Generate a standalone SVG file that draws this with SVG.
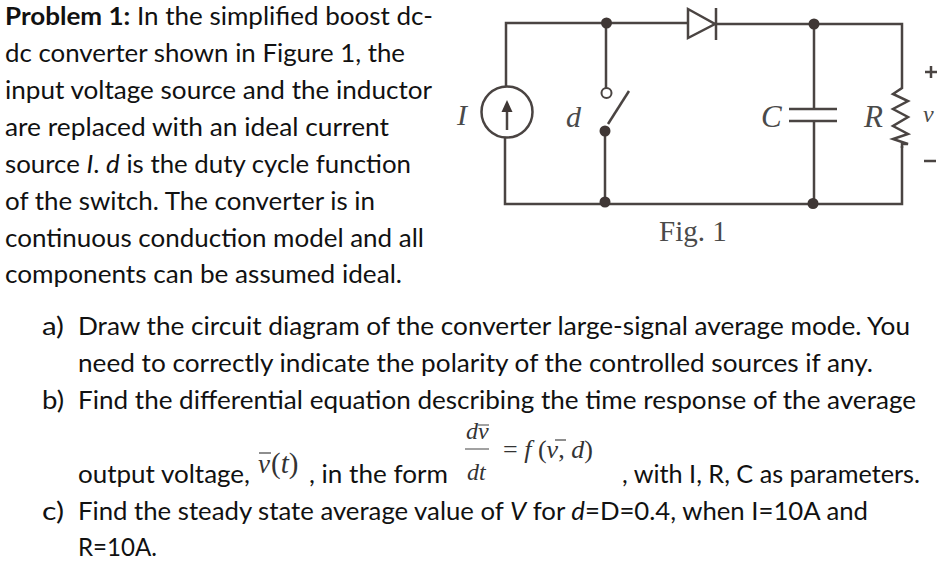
<svg xmlns="http://www.w3.org/2000/svg" width="942" height="561" viewBox="0 0 942 561">
<style>
.t{font-family:"Lato","Open Sans",sans-serif;font-size:25px;fill:#111}
.s{font-family:"Liberation Serif",serif;fill:#4a4a4a}
.i{font-style:italic}
.w{fill:none;stroke:#4a4442;stroke-width:2.5}
.o{fill:none;stroke:#444;stroke-width:1.2}
.d{fill:#3f3735}
.m{font-family:"Liberation Serif",serif;fill:#333}
</style>
<rect width="942" height="561" fill="#fff"/>
<g id="problem-text">
<text class="t" x="5" y="25" textLength="428" lengthAdjust="spacingAndGlyphs"><tspan font-weight="700">Problem 1:</tspan> In the simplified boost dc-</text>
<text class="t" x="5" y="62" textLength="400" lengthAdjust="spacingAndGlyphs">dc converter shown in Figure 1, the</text>
<text class="t" x="5" y="99" textLength="427" lengthAdjust="spacingAndGlyphs">input voltage source and the inductor</text>
<text class="t" x="5" y="136" textLength="384" lengthAdjust="spacingAndGlyphs">are replaced with an ideal current</text>
<text class="t" x="5" y="173" textLength="406" lengthAdjust="spacingAndGlyphs">source <tspan class="i">I</tspan>. <tspan class="i">d</tspan> is the duty cycle function</text>
<text class="t" x="5" y="210" textLength="370" lengthAdjust="spacingAndGlyphs">of the switch. The converter is in</text>
<text class="t" x="5" y="247" textLength="419" lengthAdjust="spacingAndGlyphs">continuous conduction model and all</text>
<text class="t" x="5" y="283" textLength="397" lengthAdjust="spacingAndGlyphs">components can be assumed ideal.</text>
<text class="t" x="42" y="335" textLength="22" lengthAdjust="spacingAndGlyphs">a)</text>
<text class="t" x="78" y="335" textLength="832" lengthAdjust="spacingAndGlyphs">Draw the circuit diagram of the converter large-signal average mode. You</text>
<text class="t" x="78" y="372" textLength="795" lengthAdjust="spacingAndGlyphs">need to correctly indicate the polarity of the controlled sources if any.</text>
<text class="t" x="42" y="409" textLength="22" lengthAdjust="spacingAndGlyphs">b)</text>
<text class="t" x="78" y="409" textLength="838" lengthAdjust="spacingAndGlyphs">Find the differential equation describing the time response of the average</text>
<text class="t" x="78" y="483" textLength="172" lengthAdjust="spacingAndGlyphs">output voltage,</text>
<text class="t" x="309" y="483" textLength="139" lengthAdjust="spacingAndGlyphs">, in the form</text>
<text class="t" x="622" y="483" textLength="298" lengthAdjust="spacingAndGlyphs">, with I, R, C as parameters.</text>
<text class="t" x="42" y="520" textLength="22" lengthAdjust="spacingAndGlyphs">c)</text>
<text class="t" x="78" y="520" textLength="790" lengthAdjust="spacingAndGlyphs">Find the steady state average value of <tspan class="i">V</tspan> for <tspan class="i">d</tspan>=D=0.4, when I=10A and</text>
<text class="t" x="78" y="556" textLength="79" lengthAdjust="spacingAndGlyphs">R=10A.</text>
</g>
<g id="equation">
<text class="m i" x="258" y="473" font-size="27">v</text>
<path d="M259 453H271" class="o"/>
<text class="m" x="271" y="473" font-size="29">(<tspan class="i">t</tspan>)</text>
<text class="m i" x="466" y="439" font-size="24">dv</text>
<path d="M478 425H489M465 449H489" class="o"/>
<text class="m i" x="467" y="480" font-size="24">dt</text>
<text class="m" x="503" y="458" font-size="26">= <tspan class="i">f</tspan> (<tspan class="i">v</tspan>, <tspan class="i">d</tspan>)</text>
<path d="M555 440H566" class="o"/>
</g>
<g id="connectors">
<path class="w" d="M506 87V23H688M715 24H902V85M902 146V204H505V137M606 23V88M605 134V203M814 24V108M814 121V203"/>
<path class="w" d="M608 124L629 91"/>
<path class="w" d="M789 109H837M789 121H837"/>
<path class="w" d="M902 85V88L893 94L908 101L893 109L908 117L893 126L908 134L893 139L908 144H902V148"/>
</g>
<g id="source-I"><circle class="w" cx="507" cy="112" r="25.500"/><path class="w" d="M507 130V110"/><path class="d" d="M507 100L512.500 112H501.500Z"/><text class="s i" x="457" y="125" font-size="30">I</text></g>
<g id="node-a"><circle class="d" cx="606.500" cy="23" r="5.500"/></g>
<g id="node-b"><circle class="d" cx="605" cy="202" r="5.500"/></g>
<g id="node-c"><circle class="d" cx="814" cy="24" r="5.500"/></g>
<g id="node-e"><circle class="d" cx="813" cy="203.500" r="5.500"/></g>
<g id="switch"><circle cx="606.500" cy="93" r="5" fill="#fff" stroke="#4a4442" stroke-width="2"/><circle class="d" cx="605" cy="131" r="5.500"/><text class="s i" x="566" y="127" font-size="30">d</text></g>
<g id="diode"><path class="w" d="M688 9V38L715 24ZM716 8V40"/></g>
<g id="cap-label"><text class="s i" x="761" y="127" font-size="31">C</text></g>
<g id="res-label"><text class="s i" x="864" y="127" font-size="31">R</text></g>
<g id="polarity"><text class="s i" x="923" y="122" font-size="24">v</text><path class="w" d="M925 72H937M931 66V78M924 161H936"/></g>
<g id="fig-label"><text class="s" x="659" y="241" font-size="29">Fig. 1</text></g>
</svg>
